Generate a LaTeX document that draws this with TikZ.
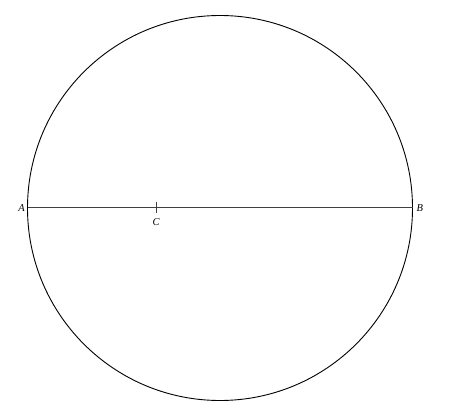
\documentclass[tikz,border=0pt]{standalone}
\usepackage{fontspec}
\setmainfont{Liberation Serif}
\begin{document}
\begin{tikzpicture}[x=1pt,y=-1pt,
  lbl/.style={font=\fontsize{10.5}{12}\selectfont\itshape, inner sep=0pt},
  seg/.style={draw=black!75, line width=1pt}]
\useasboundingbox[fill=white] (0,0) rectangle (460,409);
\coordinate (O) at (220,208);
\draw[line width=0.9pt] (O) circle[radius=192.5];
\coordinate (A) at (27.5,207.5);
\coordinate (B) at (412.5,207.5);
\coordinate (C) at (156,207.5);
\draw[seg] (A) -- (B);
\draw[seg] ([yshift=-5pt]C) -- ([yshift=5.5pt]C);
\node[lbl, anchor=east] (la) at (25,208) {A};
\node[lbl, anchor=west] (lb) at (416.5,208) {B};
\node[lbl] (lc) at (156,222.5) {C};
\end{tikzpicture}
\end{document}
